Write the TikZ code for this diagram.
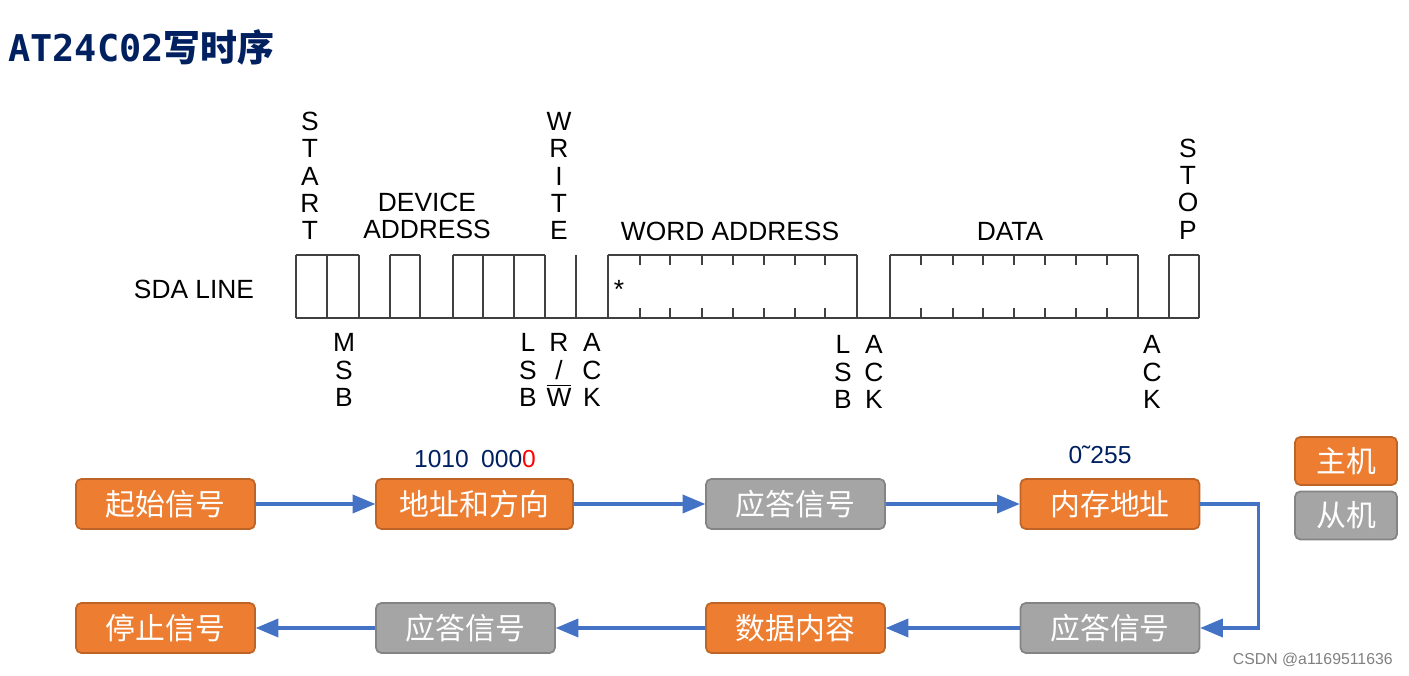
\documentclass[tikz,border=0pt]{standalone}
\usepackage{fontspec}
\setmainfont{Liberation Sans}
\newfontfamily\cjk{Noto Sans CJK SC}
\newfontfamily\titlemono{DejaVu Sans Mono}
\usetikzlibrary{arrows}
\definecolor{navy}{RGB}{0,32,96}
\definecolor{mastero}{RGB}{237,125,49}
\definecolor{slaveg}{RGB}{165,165,165}
\definecolor{flowb}{RGB}{68,114,196}
\tikzset{
  sig/.style={font=\fontsize{15}{15.5}\selectfont, align=center, inner sep=0},
  flowbox/.style={shape=rectangle, draw, line width=1pt, rounded corners=3pt, inner sep=0, minimum width=3.58cm, minimum height=1cm, text=white, font=\cjk\fontsize{17}{17}\selectfont},
  host/.style={flowbox, fill=mastero, draw=mastero!80!black},
  dev/.style={flowbox, fill=slaveg, draw=slaveg!80!black},
  flow/.style={-triangle 45, line width=2pt, draw=flowb}
}
\begin{document}
\begin{tikzpicture}
          \useasboundingbox (0,0) rectangle (28.18,13.52);
          % Title:
          \node[anchor=west, text=navy, font=\fontsize{21}{21}\selectfont, inner sep=0] (title) at (0.16, 12.58){{\titlemono\bfseries AT24C02}{\cjk\bfseries 写时序}};
          % SDA waveform:
          \draw[line width=0.8pt, draw=black!75] (5.92, 7.16) -- (23.98, 7.16);
          \foreach \x in {5.92, 6.54, 7.18, 7.80, 8.40, 9.06, 9.66, 10.28, 10.90, 11.52, 12.16, 17.14, 17.80, 22.76, 23.38, 23.98}
            \draw[line width=0.8pt, draw=black!75] (\x, 7.16) -- (\x, 8.42);
          \foreach \a/\b in {5.92/7.18, 7.80/8.40, 9.06/10.90, 12.16/17.14, 17.80/22.76, 23.38/23.98}
            \draw[line width=0.8pt, draw=black!75] (\a, 8.42) -- (\b, 8.42);
          \foreach \x in {12.80, 13.40, 14.04, 14.66, 15.28, 15.90, 16.50, 18.42, 19.06, 19.66, 20.28, 20.90, 21.52, 22.14}{
            \draw[line width=0.8pt, draw=black!75] (\x, 8.42) -- (\x, 8.22);
            \draw[line width=0.8pt, draw=black!75] (\x, 7.16) -- (\x, 7.36);
          }
          % Waveform labels:
          \node[sig] (sda) at (3.88, 7.74){SDA LINE};
          \node[sig] (start) at (6.20, 10.00){S\\T\\A\\R\\T};
          \node[sig] (devaddr) at (8.54, 9.20){DEVICE\\ADDRESS};
          \node[sig] (write) at (11.18, 10.00){W\\R\\I\\T\\E};
          \node[sig] (wordaddr) at (14.60, 8.90){WORD ADDRESS};
          \node[sig] (data) at (20.20, 8.90){DATA};
          \node[sig] (stop) at (23.76, 9.74){S\\T\\O\\P};
          \node[sig] (star) at (12.38, 7.74){*};
          \node[sig] (msb) at (6.88, 6.12){M\\S\\B};
          \node[sig] (lsbdev) at (10.56, 6.12){L\\S\\B};
          \node[sig] (rw) at (11.18, 6.12){R\\/\\$\overline{\mbox{W}}$};
          \node[sig] (ackdev) at (11.84, 6.12){A\\C\\K};
          \node[sig] (lsbword) at (16.86, 6.08){L\\S\\B};
          \node[sig] (ackword) at (17.48, 6.08){A\\C\\K};
          \node[sig] (ackdata) at (23.04, 6.08){A\\C\\K};
          % Flow boxes:
          \node[host] (begin) at (3.31, 3.44){起始信号};
          \node[host, minimum width=3.94cm] (addr) at (9.49, 3.44){地址和方向};
          \node[dev] (acka) at (15.91, 3.44){应答信号};
          \node[host] (mem) at (22.20, 3.44){内存地址};
          \node[dev] (ackb) at (22.20, 0.96){应答信号};
          \node[host] (content) at (15.91, 0.96){数据内容};
          \node[dev] (ackc) at (9.31, 0.96){应答信号};
          \node[host] (end) at (3.31, 0.96){停止信号};
          \node[host, minimum width=2.04cm, minimum height=0.96cm] (master) at (26.92, 4.30){主机};
          \node[dev, minimum width=2.04cm, minimum height=0.96cm] (slave) at (26.92, 3.21){从机};
          \node[inner sep=0, font=\fontsize{14}{14}\selectfont, text=navy] (bits) at (9.50, 4.34){1010\,\,\,000\textcolor{red}{0}};
          \node[inner sep=0, font=\fontsize{14}{14}\selectfont, text=navy] (range) at (22.00, 4.42){0˜255};
          \draw[flow] (begin) -- (addr);
          \draw[flow] (addr) -- (acka);
          \draw[flow] (acka) -- (mem);
          \draw[flow] (mem.east) -- ++(1.16, 0) |- (ackb.east);
          \draw[flow] (ackb) -- (content);
          \draw[flow] (content) -- (ackc);
          \draw[flow] (ackc) -- (end);
          \node[anchor=east, inner sep=0, text=black!50, font=\fontsize{9}{9}\selectfont] (mark) at (27.86, 0.32){CSDN @a1169511636};
        \end{tikzpicture}
\end{document}
